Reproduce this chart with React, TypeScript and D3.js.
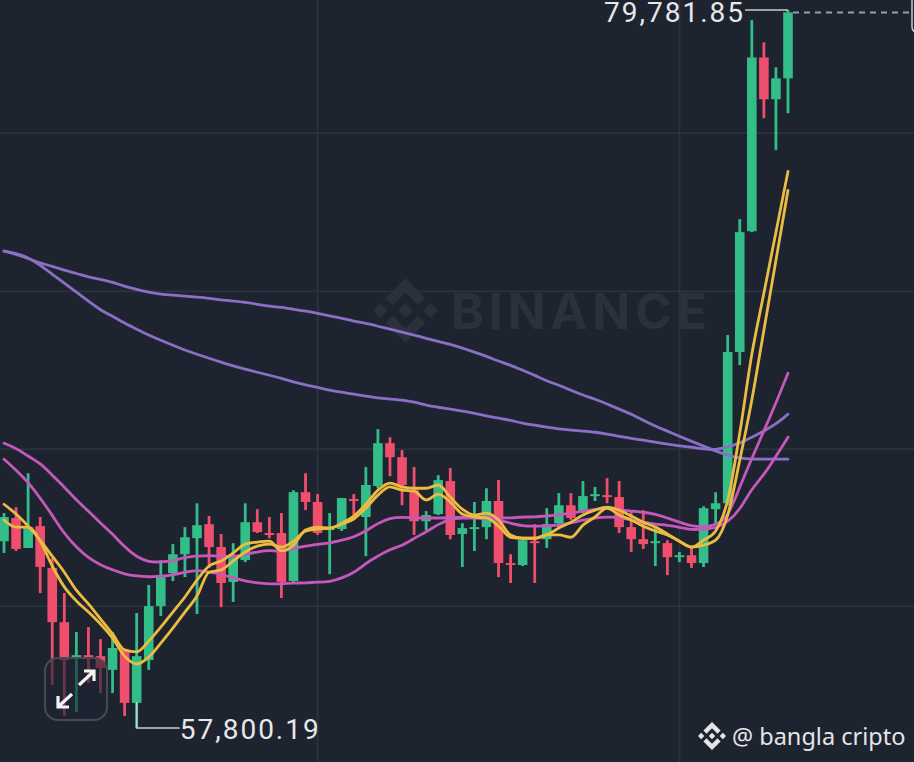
import React, { useEffect, useRef } from 'react';
import * as d3 from 'd3';

const opens = [
  63520, 64230, 63310, 63980, 62700, 61040, 59940, 60030, 60000, 59580,
  60190, 58570, 59880, 61530, 62540, 63120, 63610, 64040, 63340, 62270,
  62940, 64100, 63770, 63770, 62300, 65020, 64720, 63860, 63890, 64810,
  64260, 65210, 66520, 66090, 65080, 64130, 64350, 65360, 63740, 63920,
  63950, 64750, 62850, 62790, 63520, 63580, 64070, 64620, 64410, 64930,
  64930, 64870, 63950, 63580, 63460, 63460, 63030, 63090, 62850, 64500,
  64680, 69310, 73010, 78330, 77050, 77690,
];
const closes = [
  64260, 63280, 63950, 62730, 61040, 59880, 60030, 59940, 59640, 60250,
  58570, 60000, 61530, 62420, 63120, 63640, 64010, 63340, 62240, 63000,
  64100, 63800, 63710, 62270, 65020, 64720, 63770, 63920, 64840, 64750,
  65240, 66520, 66090, 65240, 64130, 64320, 65390, 63710, 63920, 63950,
  64750, 62850, 62790, 63550, 63460, 64040, 64620, 64230, 64900, 64960,
  64870, 63950, 63580, 63430, 63520, 63030, 63090, 62850, 64530, 64680,
  69310, 72980, 78330, 77050, 77690, 79710,
];
const highs = [
  64380, 64560, 65600, 64260, 63000, 61930, 60740, 60890, 60520, 60740,
  60190, 61320, 62180, 62940, 63430, 63950, 64680, 64290, 63740, 63460,
  64680, 64500, 64260, 64380, 65080, 65600, 64960, 64380, 64840, 64960,
  65790, 66950, 66700, 66310, 65790, 64440, 65540, 65760, 64070, 64720,
  65140, 65390, 63120, 63580, 64040, 64530, 64990, 64990, 65360, 65180,
  65450, 65360, 64410, 64470, 63920, 63550, 63190, 63340, 64590, 65020,
  69830, 73380, 79470, 78790, 78030, 79781.85,
];
const lows = [
  63160, 63220, 63310, 61930, 59120, 58170, 58290, 59180, 58870, 58870,
  58170, 57800.19, 59580, 61230, 62300, 62420, 61290, 62700, 61500, 61660,
  62880, 63770, 63610, 61780, 62270, 64470, 63710, 62510, 63830, 64320,
  63060, 65140, 65510, 64620, 63710, 63860, 64320, 63580, 62730, 63220,
  63580, 62420, 62240, 62760, 62240, 63310, 63920, 64170, 64380, 64750,
  64680, 63770, 63190, 63280, 62760, 62480, 62880, 62700, 62730, 64010,
  64620, 68910, 72980, 76470, 75490, 76620,
];

const yellowFast = [
  64650, 64350, 63980, 63550, 63060, 62570, 62020, 61600, 61140, 60680,
  60190, 60130, 60460, 60890, 61350, 61810, 62330, 62760, 62910, 63160,
  63430, 63490, 63520, 63220, 63400, 63860, 63950, 63920, 64070, 64290,
  64650, 65080, 65300, 65180, 65140, 65140, 65240, 64870, 64500, 64320,
  64380, 64170, 63710, 63610, 63610, 63710, 63920, 64100, 64320, 64470,
  64560, 64470, 64290, 64100, 63950, 63740, 63520, 63340, 63550, 63830,
  64780, 66830, 69240, 71110, 72980, 74840,
];
const yellowSlow = [
  64170, 63950, 63950, 63520, 62760, 62120, 61690, 61350, 60980, 60550,
  60000, 59760, 59970, 60400, 60860, 61350, 61840, 62570, 62640, 62910,
  63190, 63370, 63430, 63340, 63520, 63830, 63890, 63920, 64040, 64200,
  64530, 64930, 65180, 65080, 65050, 64780, 64960, 64720, 64350, 64260,
  64230, 63980, 63640, 63610, 63610, 63710, 63710, 63640, 64010, 64260,
  64530, 64320, 64170, 63980, 63830, 63710, 63520, 63340, 63400, 63550,
  64320, 66000, 67840, 69980, 72120, 74260,
];
const magentaUpper = [
  66520, 66370, 66120, 65910, 65540, 65180, 64780, 64440, 64070, 63740,
  63340, 63030, 62880, 62880, 62910, 63030, 63060, 63090, 63060, 63030,
  63120, 63190, 63250, 63190, 63310, 63370, 63430, 63460, 63550, 63640,
  63830, 64070, 64230, 64260, 64230, 64230, 64230, 64230, 64260, 64260,
  64260, 64230, 64230, 64260, 64260, 64290, 64320, 64380, 64440, 64500,
  64530, 64470, 64440, 64410, 64350, 64230, 64100, 63980, 63950, 64010,
  64230, 65180, 66060, 66890, 67750, 68660,
];
const magentaLower = [
  66030, 65700, 65330, 64840, 64320, 63740, 63340, 63000, 62790, 62640,
  62510, 62450, 62420, 62450, 62480, 62570, 62640, 62570, 62510, 62390,
  62300, 62240, 62210, 62210, 62240, 62240, 62270, 62270, 62390, 62540,
  62850, 63060, 63280, 63370, 63610, 63800, 64040, 64200, 64230, 64230,
  64200, 64170, 64070, 63980, 63980, 63980, 64010, 64070, 64170, 64230,
  64260, 64260, 64170, 64100, 64040, 64010, 63950, 63860, 63890, 63920,
  64100, 64470, 65140, 65540, 66120, 66700,
];
const purpleUpper = [
  72400, 72300, 72180, 72030, 71940, 71810, 71720, 71600, 71540, 71450,
  71320, 71230, 71140, 71080, 71050, 71020, 70990, 70960, 70900, 70870,
  70840, 70770, 70710, 70680, 70620, 70560, 70500, 70410, 70350, 70250,
  70190, 70100, 70010, 69920, 69830, 69730, 69640, 69550, 69430, 69310,
  69180, 69030, 68910, 68750, 68600, 68420, 68300, 68140, 67990, 67870,
  67720, 67560, 67410, 67220, 67040, 66890, 66730, 66580, 66430, 66280,
  66150, 66060, 66030, 66030, 66030, 66030,
];
const purpleLower = [
  72400, 72330, 72210, 71970, 71690, 71420, 71140, 70870, 70590, 70410,
  70190, 70010, 69830, 69670, 69520, 69370, 69240, 69120, 69000, 68880,
  68790, 68690, 68600, 68510, 68390, 68300, 68230, 68140, 68080, 68020,
  67960, 67900, 67870, 67840, 67780, 67680, 67620, 67560, 67500, 67440,
  67350, 67290, 67220, 67130, 67070, 67010, 66950, 66920, 66890, 66860,
  66800, 66730, 66670, 66610, 66550, 66490, 66430, 66400, 66340, 66310,
  66400, 66520, 66700, 66890, 67100, 67410,
];

const gridPrices = [76010, 71170, 66340, 61530];
const gridCandles = [26, 56];

const BG = '#1d2430';
const GRID = '#2b323d';
const GREEN = '#33bd88';
const RED = '#ef4f6c';
const YELLOW = '#ecbc42';
const MAGENTA = '#c658bb';
const PURPLE = '#8a6fc4';
const LABEL = '#e6e8ea';
const FONT = 'Roboto, "Noto Sans", sans-serif';

const LOGO =
  'M9.79 13.45 16 7.24l6.21 6.21 3.61-3.61L16 0 6.18 9.82zM0 16l3.61-3.61L7.22 16l-3.61 3.61zM9.79 18.55 16 24.76l6.21-6.21 3.61 3.61L16 32l-9.82-9.82zM24.78 16l3.61-3.61L32 16l-3.61 3.61zM19.66 16 16 12.34 12.34 16 16 19.66z';

function drawChart(node: SVGSVGElement) {
  const svg = d3.select(node);
  svg.selectAll('*').remove();

  const w = 914;
  const h = 762;

  const x = d3.scaleLinear().domain([0, opens.length - 1]).range([4, 788]);
  const y = d3.scaleLinear().domain([57800.19, 79781.85]).range([728, 10]);

  svg.append('rect').attr('width', w).attr('height', h).attr('fill', BG);

  // grid
  svg.append('g').selectAll('line').data(gridPrices).join('line')
    .attr('x1', 0).attr('x2', w)
    .attr('y1', d => y(d)).attr('y2', d => y(d))
    .attr('stroke', GRID).attr('stroke-width', 1.8);
  svg.append('g').selectAll('line').data(gridCandles).join('line')
    .attr('x1', d => x(d)).attr('x2', d => x(d))
    .attr('y1', 0).attr('y2', h)
    .attr('stroke', GRID).attr('stroke-width', 1.8);

  // exchange watermark
  svg.append('path').attr('d', LOGO)
    .attr('transform', 'translate(373,278) scale(2.03)')
    .attr('fill', '#2a313d');
  svg.append('text').text('BINANCE')
    .attr('x', 451).attr('y', 329)
    .attr('font-family', 'Inter, "Noto Sans", sans-serif')
    .attr('font-weight', 700).attr('font-size', 50)
    .attr('textLength', 256)
    .attr('fill', '#2a313d');

  // candles
  const candles = d3.range(opens.length);
  const colour = (i: number) => (closes[i] >= opens[i] ? GREEN : RED);
  svg.append('g').selectAll('line').data(candles).join('line')
    .attr('x1', i => x(i)).attr('x2', i => x(i))
    .attr('y1', i => y(highs[i])).attr('y2', i => y(lows[i]))
    .attr('stroke', colour).attr('stroke-width', 2.8);
  svg.append('g').selectAll('rect').data(candles).join('rect')
    .attr('x', i => x(i) - 4.8)
    .attr('width', 9.6)
    .attr('y', i => y(Math.max(opens[i], closes[i])))
    .attr('height', i => Math.max(2, Math.abs(y(opens[i]) - y(closes[i]))))
    .attr('fill', colour);

  // moving averages
  const smooth = d3.line<number>()
    .x((_, i) => x(i))
    .y(d => y(d))
    .curve(d3.curveBasis);
  const sharp = d3.line<number>()
    .x((_, i) => x(i))
    .y(d => y(d))
    .curve(d3.curveMonotoneX);
  const series: [number[], string, d3.Line<number>][] = [
    [purpleUpper, PURPLE, smooth],
    [purpleLower, PURPLE, smooth],
    [magentaUpper, MAGENTA, smooth],
    [magentaLower, MAGENTA, smooth],
    [yellowSlow, YELLOW, sharp],
    [yellowFast, YELLOW, sharp],
  ];
  svg.append('g').selectAll('path').data(series).join('path')
    .attr('d', d => d[2](d[0]))
    .attr('fill', 'none')
    .attr('stroke', d => d[1])
    .attr('stroke-width', 2.8)
    .attr('stroke-linecap', 'round')
    .attr('stroke-linejoin', 'round');

  // high / low markers
  const hi = d3.max(highs) as number;
  const lo = d3.min(lows) as number;
  const fmt = d3.format(',.2f');
  const hiX = x(highs.indexOf(hi));
  const loX = x(lows.indexOf(lo));

  svg.append('line')
    .attr('x1', hiX).attr('x2', hiX - 43)
    .attr('y1', y(hi)).attr('y2', y(hi))
    .attr('stroke', '#c9ccd0').attr('stroke-width', 1.6);
  svg.append('text').text(fmt(hi))
    .attr('x', hiX - 43).attr('y', y(hi) + 11.5)
    .attr('text-anchor', 'end')
    .attr('font-family', FONT).attr('font-size', 28)
    .attr('letter-spacing', 2)
    .attr('fill', LABEL);

  svg.append('path')
    .attr('d', `M${loX},${y(lo) - 26}V${y(lo)}H${loX + 43}`)
    .attr('fill', 'none')
    .attr('stroke', '#c9ccd0').attr('stroke-width', 1.6);
  svg.append('text').text(fmt(lo))
    .attr('x', loX + 43).attr('y', y(lo) + 11)
    .attr('font-family', FONT).attr('font-size', 28)
    .attr('letter-spacing', 2)
    .attr('fill', LABEL);

  // last price dashes
  svg.append('line')
    .attr('x1', hiX + 5).attr('x2', w)
    .attr('y1', 12.5).attr('y2', 12.5)
    .attr('stroke', '#9a9ea5').attr('stroke-width', 2)
    .attr('stroke-dasharray', '6 5');

  // clipped button in the top right corner
  svg.append('rect')
    .attr('x', 912).attr('y', -30).attr('width', 40).attr('height', 63).attr('rx', 6)
    .attr('fill', 'none').attr('stroke', '#c9ccd0').attr('stroke-width', 1.5);

  // expand button
  svg.append('rect')
    .attr('x', 45).attr('y', 658).attr('width', 62).attr('height', 62).attr('rx', 13)
    .attr('fill', BG).attr('fill-opacity', 0.62)
    .attr('stroke', '#454a54').attr('stroke-width', 2);
  const arrows = svg.append('g')
    .attr('fill', 'none').attr('stroke', '#f2f3f4').attr('stroke-width', 3.2);
  arrows.append('path').attr('d', 'M79,685L93,672M84,671H94V681');
  arrows.append('path').attr('d', 'M72,694L59,706M58,696V707H69');

  // author tag
  svg.append('path').attr('d', LOGO)
    .attr('transform', 'translate(698,722) scale(0.875)')
    .attr('fill', '#e3e5e8');
  svg.append('text').text('@ bangla cripto')
    .attr('x', 732).attr('y', 745)
    .attr('font-family', '"Noto Sans", sans-serif').attr('font-size', 23.5)
    .attr('fill', '#e3e5e8');
}

export default function App() {
  const ref = useRef<SVGSVGElement>(null);

  useEffect(() => {
    if (ref.current) drawChart(ref.current);
  }, []);

  return (
    <svg
      ref={ref}
      width={914}
      height={762}
      style={{ position: 'absolute', left: 0, top: 0, display: 'block' }}
    />
  );
}
